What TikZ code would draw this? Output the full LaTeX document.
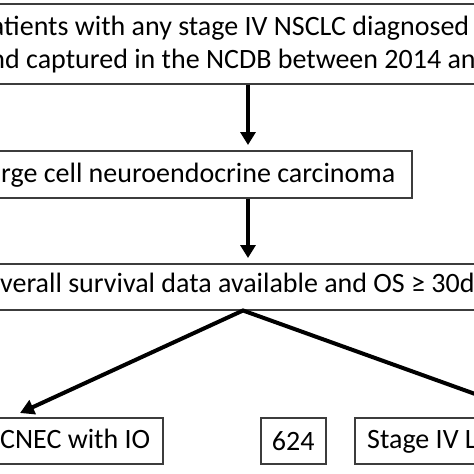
\documentclass[tikz,border=0pt]{standalone}
\usepackage{fontspec}
\setmainfont{Carlito}
\usetikzlibrary{arrows.meta}
\definecolor{boxgray}{RGB}{60,60,60}
\begin{document}
\begin{tikzpicture}[x=1pt,y=-1pt,
  box/.style={draw=boxgray, line width=1.5pt, fill=white, inner sep=0pt, anchor=north west},
  lbl/.style={font=\fontsize{28}{33.6}\selectfont, inner sep=0pt, anchor=base west},
  flow/.style={line width=4.5pt, -{Triangle[width=15pt,length=13pt]}},
  fork/.style={line width=4pt, line join=miter, {Triangle[width=15pt,length=14pt]}-{Triangle[width=15pt,length=14pt]}}]
\clip (0,0) rectangle (474,474);
\fill[white] (0,0) rectangle (474,474);
% boxes
\node[box, minimum width=600pt, minimum height=80pt] (box1) at (-60,3) {};
\node[box, minimum width=471pt, minimum height=47pt] (box2) at (-60,150) {};
\node[box, minimum width=600pt, minimum height=46pt] (box3) at (-60,263) {};
\node[box, minimum width=222pt, minimum height=46pt] (box4) at (-60,417) {};
\node[box, minimum width=65pt, minimum height=46pt, font=\fontsize{28}{33.6}\selectfont] (box5) at (260,417) {624};
\node[box, minimum width=300pt, minimum height=46pt] (box6) at (354,417) {};
% texts
\node[lbl] (t1) at (4,35) {\llap{Pa}tients with any stage IV NSCLC diagnosed};
\node[lbl] (t2) at (5,68) {\llap{an}d captured in the NCDB between 2014 and};
\node[lbl] (t3) at (1,182) {\llap{La}rge cell neuroendocrine carcinoma};
\node[lbl] (t4) at (0,292) {\llap{O}verall survival data available and OS ≥ 30days};
\node[lbl] (t5) at (0,448) {\llap{L}CNEC with IO};
\node[lbl] (t6) at (367,448) {Stage IV LCNEC};
% connectors
\coordinate (ax) at (248,0);
\coordinate (apx) at (243,0);
\coordinate (lx) at (20,0);
\coordinate (rx) at (528,0);
\draw[flow] (box1.south -| ax) -- ([yshift=5pt]box2.north -| ax);
\draw[flow] (box2.south -| ax) -- ([yshift=5pt]box3.north -| ax);
\draw[fork] ([yshift=4pt]box4.north -| lx) -- (box3.south -| apx) -- ([yshift=4pt]box6.north -| rx);
\end{tikzpicture}
\end{document}
